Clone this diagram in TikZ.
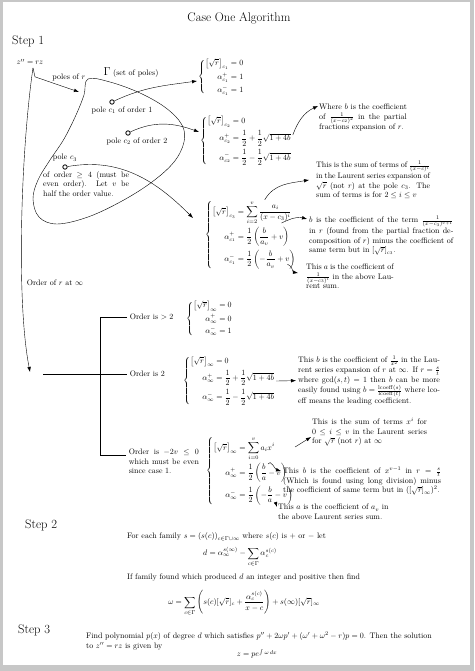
\documentclass[tikz,border=0pt]{standalone}
\usepackage{amsmath,amssymb}
\usetikzlibrary{arrows.meta}

\newcommand{\bodyfont}{\fontsize{10}{12}\selectfont}
\newcommand{\headfont}{\fontsize{15.7}{19}\selectfont}
\tikzset{
    pole/.style={circle, draw, line width=1pt, inner sep=0pt, minimum size=5.6pt},
    note/.style={anchor=north west, align=justify, inner sep=1.25pt},
    eqs/.style={anchor=west, inner sep=1.25pt},
    arr/.style={-{Latex[length=6.3pt, width=4.5pt]}},
}
\newcommand{\pn}{\node[pole]}
\newcommand{\tn}{\node[note]}
\newcommand{\en}{\node[eqs]}
\newcommand{\hn}{\node[anchor=west, inner sep=1.25pt, font=\headfont]}

\begin{document}
\begin{tikzpicture}[x=1.255pt, y=1.255pt, font=\bodyfont, line width=0.5pt]
            \fill[black!22] (0,0) rectangle (474,-671);
            \fill[white] (3,-2) rectangle (470,-665);
            \useasboundingbox (0,0) rectangle (474,-671);

            \node[font=\headfont] (title) at (239,-18) {Case One Algorithm};
            \hn (step1) at (11,-41) {Step 1};
            \hn (step2) at (24,-525) {Step 2};
            \hn (step3) at (17,-630) {Step 3};

            \node (z) at (30,-62) {$z''=rz$};
            \coordinate (polesr) at (79,-92);
            \coordinate (inf) at (30,-372);
            \node (polelbl) at (69,-77) {poles of $r$};
            \node (gamma) at (131,-73) {{\fontsize{13.8}{15}\selectfont$\Gamma$} (set of poles)};

            \draw plot[smooth cycle, tension=0.6] coordinates {
                (88,-79) (110,-82) (140,-93) (166,-108) (182,-125) (184,-142)
                (174,-162) (152,-182) (122,-201) (88,-217) (57,-224) (39,-217)
                (33,-199) (38,-180) (50,-160) (64,-139) (76,-115) (84,-95)
            };

            \pn (c1) at (112,-102) {};
            \pn (c2) at (128,-133) {};
            \pn (c3) at (65,-167) {};
            \node (c1lbl) at (122,-110) {pole $c_1$ of order 1};
            \node (c2lbl) at (137,-141) {pole $c_2$ of order 2};
            \node (c3lbl) at (65,-158) {pole $c_3$};
            \node[note, inner sep=0pt, text width=108pt] (c3txt) at (43,-171)
                {of order $\ge 4$ (must be even order). Let $v$ be half the order value.};

            \en (b1) at (197,-77) {$\left\{\begin{aligned}
                \left[\sqrt{r}\right]_{c_1} &= 0\\
                \alpha^+_{c_1} &= 1\\
                \alpha^-_{c_1} &= 1
                \end{aligned}\right.$};
            \en (b2) at (199,-141) {$\left\{\begin{aligned}
                \left[\sqrt{r}\right]_{c_2} &= 0\\
                \alpha^+_{c_2} &= \frac12+\frac12\sqrt{1+4b}\\
                \alpha^-_{c_2} &= \frac12-\frac12\sqrt{1+4b}
                \end{aligned}\right.$};
            \en (b3) at (204,-235) {$\left\{\begin{aligned}
                \left[\sqrt{r}\right]_{c_3} &= \sum_{i=2}^{v}\frac{a_i}{(x-c_3)^i}\\
                \alpha^+_{c_1} &= \frac12\left(\frac{b}{a_v}+v\right)\\
                \alpha^-_{c_1} &= \frac12\left(-\frac{b}{a_v}+v\right)
                \end{aligned}\right.$};

            \tn[text width=110pt] (n2) at (318,-103)
                {Where $b$ is the coefficient of $\frac{1}{(x-c_2)^2}$ in the partial fractions expansion of $r$.};
            \tn[text width=143pt] (n3a) at (315,-160)
                {This is the sum of terms of $\frac{1}{(x-c)^i}$ in the Laurent series expansion of $\sqrt{r}$ (not $r$) at the pole $c_3$. The sum of terms is for $2\le i\le v$};
            \tn[text width=181pt] (n3b) at (308,-215)
                {$b$ is the coefficient of the term $\frac{1}{(x-c_3)^{v+1}}$ in $r$ (found from the partial fraction decomposition of $r$) minus the coefficient of same term but in $[\sqrt{r}]_{c_3}$.};
            \tn[text width=110pt] (n3c) at (305,-263)
                {This $a$ is the coefficient of $\frac{1}{(x-c_3)^i}$ in the above Laurent sum.};

            \node (ordinf) at (55,-283) {Order of $r$ at $\infty$};
            \node[anchor=west] (gt) at (127,-317) {Order is $>2$};
            \node[anchor=west] (two) at (127,-374) {Order is 2};
            \node[anchor=north west, text width=88pt, align=justify] (neg) at (126,-446)
                {Order is $-2v\le 0$ which must be even since case 1.};
            \coordinate (vtop) at (100,-317);
            \coordinate (vbot) at (100,-455);
            \coordinate (hleft) at (43,-374);

            \en (binf1) at (185,-319) {$\left\{\begin{aligned}
                \left[\sqrt{r}\right]_{\infty} &= 0\\
                \alpha^+_{\infty} &= 0\\
                \alpha^-_{\infty} &= 1
                \end{aligned}\right.$};
            \en (binf2) at (182,-381) {$\left\{\begin{aligned}
                \left[\sqrt{r}\right]_{\infty} &= 0\\
                \alpha^+_{\infty} &= \frac12+\frac12\sqrt{1+4b}\\
                \alpha^-_{\infty} &= \frac12-\frac12\sqrt{1+4b}
                \end{aligned}\right.$};
            \en (binf3) at (205,-471) {$\left\{\begin{aligned}
                \left[\sqrt{r}\right]_{\infty} &= \sum_{i=0}^{v}a_ix^i\\
                \alpha^+_{\infty} &= \frac12\left(\frac{b}{a}-v\right)\\
                \alpha^-_{\infty} &= \frac12\left(-\frac{b}{a}-v\right)
                \end{aligned}\right.$};

            \tn[text width=178pt] (ninf2) at (297,-355)
                {This $b$ is the coefficient of $\frac{1}{x^2}$ in the Laurent series expansion of $r$ at $\infty$. If $r=\frac{s}{t}$ where $\gcd(s,t)=1$ then $b$ can be more easily found using $b=\frac{\operatorname{lcoeff}(s)}{\operatorname{lcoeff}(t)}$ where lcoeff means the leading coefficient.};
            \tn[text width=144pt] (ninf3a) at (311,-417)
                {This is the sum of terms $x^i$ for $0\le i\le v$ in the Laurent series for $\sqrt{r}$ (not $r$) at $\infty$};
            \tn[text width=198pt] (ninf3b) at (282,-466)
                {This $b$ is the coefficient of $x^{v-1}$ in $r=\frac{s}{t}$ (Which is found using long division) minus the coefficient of same term but in $([\sqrt{r}]_\infty)^2$.};
            \tn[text width=150pt, align=left] (ninf3c) at (277,-503)
                {This $a$ is the coefficient of $a_v$ in\\ the above Laurent series sum.};

            \node[anchor=west, inner sep=1.25pt] (fam) at (126,-537) {For each family $s=(s(c))_{c\in\Gamma\cup\infty}$ where $s(c)$ is $+$ or $-$ let};
            \node (dform) at (240,-557) {$d=\alpha_\infty^{s(\infty)}-\displaystyle\sum_{c\in\Gamma}\alpha_c^{s(c)}$};
            \node[anchor=west, inner sep=1.25pt] (iffam) at (126,-578) {If family found which produced $d$ an integer and positive then find};
            \node (omega) at (244,-603) {$\displaystyle\omega=\sum_{c\in\Gamma}\left(s(c)[\sqrt{r}]_c+\frac{\alpha_c^{s(c)}}{x-c}\right)+s(\infty)[\sqrt{r}]_\infty$};
            \tn[align=left] (findp) at (85,-631)
                {Find polynomial $p(x)$ of degree $d$ which satisfies $p''+2\omega p'+(\omega'+\omega^2-r)p=0$. Then the solution\\ to $z''=rz$ is given by};
            \node (zsol) at (257,-654) {$z=pe^{\int\omega\,dx}$};

            \draw[arr] ([shift={(3,0)}]z.south) .. controls (21,-150) and (16,-300) .. (inf);
            \draw[arr] ([shift={(3,0)}]z.south) -- ++(2,-9) -- (polesr);
            \draw[arr] (c1) to[out=25, in=188] ([shift={(0,-4)}]b1.west);
            \draw[arr] (c2) to[out=25, in=160] ([shift={(0,9)}]b2.west);
            \draw[arr] (c3) to[out=10, in=135] ([shift={(-11,17)}]b3.west);
            \draw[arr] ([shift={(0,6)}]b2.east) to[out=70, in=205] ([shift={(0,-3)}]n2.north west);
            \draw[arr] ([shift={(14,0)}]b3.north) to[out=60, in=190] ([shift={(-6,0)}]n3a.west);
            \draw[arr] ([shift={(-16,12)}]b3.east) to[out=25, in=165] ([shift={(-1,-4)}]n3b.north west);
            \draw[arr] ([shift={(-10,6)}]b3.south east) to[out=-20, in=170] ([shift={(-7,-10)}]n3c.north west);
            \draw[arr] (binf2.east) -- ([shift={(-1,0)}]ninf2.west);
            \draw[arr] ([shift={(0,24)}]binf3.east) -- ([shift={(0,-5)}]ninf3a.west);
            \draw[arr] ([shift={(-27,7)}]binf3.east) to[out=70, in=165] ([shift={(-1,-5)}]ninf3b.north west);
            \draw[arr] ([shift={(-19,-33)}]binf3.east) -- ([shift={(0,-4)}]ninf3c.north west);

            \draw
                (gt.west) -- (vtop) -- (vbot) -- (vbot -| neg.west)
                (hleft) -- (two.west)
                ;
\end{tikzpicture}
\end{document}
